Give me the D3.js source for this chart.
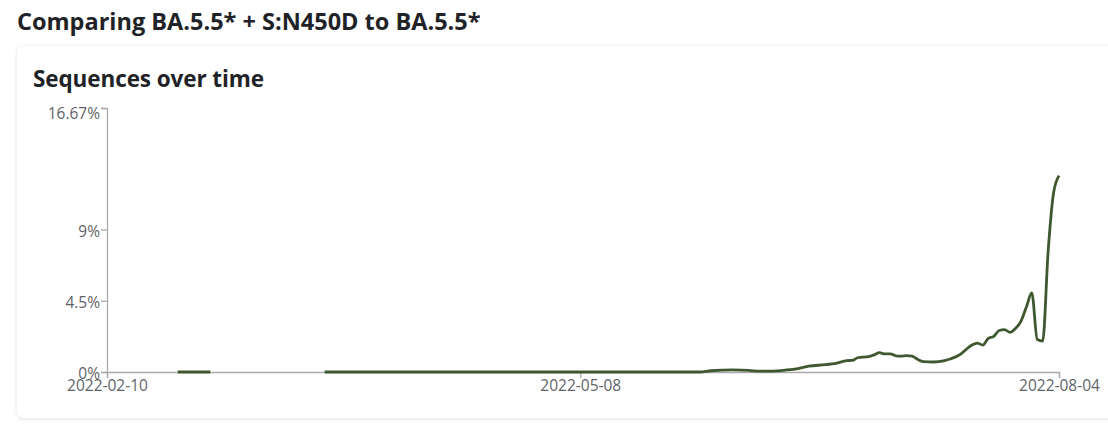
<!DOCTYPE html>
<html>
<head>
<meta charset="utf-8">
<script src="https://cdn.jsdelivr.net/npm/d3@7"></script>
<style>
  body { margin: 0; background: #fff; font-family: "Open Sans", "Noto Sans", sans-serif; }
  #title { position: absolute; left: 17px; top: 5px; font-size: 23.5px; font-weight: 700; color: #1f2328; margin: 0; letter-spacing: 0px; }
  #card { position: absolute; left: 17px; top: 46px; width: 1120px; height: 372px;
          border-radius: 7px; background: #fff;
          box-shadow: 0 1px 4px rgba(0,0,0,0.13); }
  #card h2 { position: absolute; left: 16px; top: 17px; margin: 0; font-size: 22.5px; font-weight: 700; color: #1f2328; letter-spacing: -0.1px; }
  #chart { position: absolute; left: 0; top: 0; }
</style>
</head>
<body>
<div id="title">Comparing BA.5.5* + S:N450D to BA.5.5*</div>
<div id="card"><h2>Sequences over time</h2></div>
<div id="chart"></div>
<script>
// values (% of sequences); null = no data
const dates = [
  "2022-02-23", "2022-03-01", "2022-03-02",
  "2022-03-22", "2022-04-15", "2022-05-08", "2022-05-30",
  "2022-06-01", "2022-06-05", "2022-06-08", "2022-06-10", "2022-06-12",
  "2022-06-15", "2022-06-17", "2022-06-19", "2022-06-22", "2022-06-24",
  "2022-06-26", "2022-06-27", "2022-06-28", "2022-06-30", "2022-07-01",
  "2022-07-02", "2022-07-03", "2022-07-04", "2022-07-05", "2022-07-06",
  "2022-07-07", "2022-07-08", "2022-07-09", "2022-07-10", "2022-07-12",
  "2022-07-14", "2022-07-15", "2022-07-17", "2022-07-18", "2022-07-19",
  "2022-07-20", "2022-07-21", "2022-07-22", "2022-07-23", "2022-07-24",
  "2022-07-25", "2022-07-26", "2022-07-27", "2022-07-28", "2022-07-29",
  "2022-07-30", "2022-07-31", "2022-08-01", "2022-08-02", "2022-08-03",
  "2022-08-04"
];
const shares = [
  0, 0, null,
  0, 0, 0, 0,
  0.08, 0.13, 0.1, 0.05, 0.05,
  0.13, 0.22, 0.37, 0.46, 0.55,
  0.72, 0.73, 0.9, 0.97, 1.08,
  1.22, 1.14, 1.15, 1.02, 1.0,
  1.04, 1.0, 0.8, 0.66, 0.63,
  0.72, 0.82, 1.15, 1.45, 1.7,
  1.82, 1.7, 2.12, 2.25, 2.62,
  2.68, 2.5, 2.75, 3.2, 4.1,
  5.0, 2.05, 1.95, 7.6, 11.3,
  12.4
];
const xTickLabels = ["2022-02-10", "2022-05-08", "2022-08-04"];
const yTickValues = [0, 4.5, 9, 16.67];

const parseDate = d3.timeParse("%Y-%m-%d");
const data = dates.map((d, i) => ({ date: parseDate(d), value: shares[i] }));

const dimensions = {
  width: 1108,
  height: 425,
  margin: { top: 108, right: 49, bottom: 53, left: 107 },
};
dimensions.boundedWidth = dimensions.width - dimensions.margin.left - dimensions.margin.right;
dimensions.boundedHeight = dimensions.height - dimensions.margin.top - dimensions.margin.bottom;

const svg = d3.select("#chart")
  .append("svg")
    .attr("width", dimensions.width)
    .attr("height", dimensions.height);

const bounds = svg.append("g")
  .attr("transform", `translate(${dimensions.margin.left},${dimensions.margin.top})`);

const xScale = d3.scaleTime()
  .domain([parseDate(xTickLabels[0]), parseDate(xTickLabels[2])])
  .range([0, dimensions.boundedWidth]);

const yScale = d3.scaleLinear()
  .domain([0, 16.67])
  .range([dimensions.boundedHeight, 0]);

// axes
const yAxis = bounds.append("g")
  .call(d3.axisLeft(yScale)
    .tickValues(yTickValues)
    .tickFormat(d => d + "%"));

const xAxis = bounds.append("g")
  .attr("transform", `translate(0,${dimensions.boundedHeight})`)
  .call(d3.axisBottom(xScale)
    .tickValues(xTickLabels.map(parseDate))
    .tickFormat(d3.timeFormat("%Y-%m-%d")));

[yAxis, xAxis].forEach(a => {
  a.selectAll("path, line").attr("stroke", "#aaa").attr("stroke-width", 1.3);
  a.selectAll("text")
    .attr("fill", "#5f6368")
    .style("font-family", "'Open Sans', 'Noto Sans', sans-serif")
    .style("font-size", "15.5px");
});
// top label sits a little below its tick in the reference
yAxis.selectAll("text")
  .attr("x", -7)
  .attr("y", d => d === 16.67 ? 6 : 2);
xAxis.selectAll("text").attr("y", 8);

// line
const lineGenerator = d3.line()
  .defined(d => d.value !== null)
  .x(d => xScale(d.date))
  .y(d => yScale(d.value))
  .curve(d3.curveMonotoneX);

bounds.append("path")
  .attr("d", lineGenerator(data))
  .attr("fill", "none")
  .attr("stroke", "#40582f")
  .attr("stroke-width", 2.8);
</script>
</body>
</html>
